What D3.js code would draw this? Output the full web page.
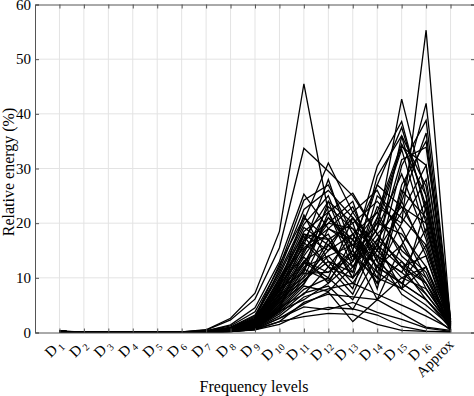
<!DOCTYPE html>
<html>
<head>
<meta charset="utf-8">
<script src="https://cdn.jsdelivr.net/npm/d3@7"></script>
<style>
  body { margin: 0; background: #fff; }
  text { font-family: "Liberation Serif", "Times New Roman", serif; fill: #000; }
</style>
</head>
<body>
<div id="chart"></div>
<script>
// frequency levels on the x axis
const levels = ["D1","D2","D3","D4","D5","D6","D7","D8","D9","D10","D11","D12","D13","D14","D15","D16","Approx"];
const yTicks = [0, 10, 20, 30, 40, 50, 60];

// relative energy (%) per signal, one row per line, values in the order of levels
const lines = [
  [0.3,0.08,0.04,0.03,0.05,0.12,0.5,2.6,7.2,18.5,45.5,22,14,10,8,5,1.2],
  [0.25,0.07,0.03,0.03,0.04,0.1,0.45,2.3,6.1,15.5,33.7,29.5,25,18,12,9,2.0],
  [0.2,0.05,0.02,0.02,0.03,0.08,0.3,1.4,4.5,13,25.3,19,16,14,11,7,1.5],
  [0.22,0.06,0.03,0.02,0.03,0.09,0.3,1.2,3.8,12,24.2,27,18,12,9,6,1.3],
  [0.2,0.05,0.02,0.02,0.03,0.07,0.25,1,3.2,11,20.5,31,22,15,10,8,1.8],
  [0.2,0.05,0.02,0.02,0.03,0.07,0.22,0.9,3,10.5,19.8,25,14,20,18,12,2.2],
  [0.18,0.04,0.02,0.02,0.02,0.06,0.2,0.8,2.6,9.5,19.2,16,21,13,9,6,1.4],
  [0.2,0.05,0.02,0.02,0.03,0.06,0.2,0.7,2.4,9,18.5,22,12,17,24,14,1.9],
  [0.2,0.05,0.02,0.02,0.02,0.06,0.18,0.6,2.2,8.6,17.6,12,18,22,14,10,2.4],
  [0.18,0.04,0.02,0.02,0.02,0.05,0.16,0.6,2,8.2,16.8,20,24,11,8,23,2.1],
  [0.2,0.05,0.02,0.02,0.03,0.06,0.15,0.5,1.8,7.8,16,28,15,9,13,7,1.2],
  [0.2,0.05,0.02,0.02,0.02,0.05,0.15,0.5,1.7,7.5,15.2,18,10,25,21,16,2.5],
  [0.18,0.04,0.02,0.02,0.02,0.05,0.14,0.45,1.6,7,14.5,23,19,15,35.9,20,1.6],
  [0.2,0.05,0.02,0.02,0.02,0.05,0.13,0.4,1.5,6.8,13.8,9,17,27,37.5,23,1.7],
  [0.2,0.05,0.02,0.02,0.02,0.05,0.12,0.4,1.4,6.4,13.1,16,13,19,42.7,24.9,1.5],
  [0.18,0.04,0.02,0.02,0.02,0.05,0.12,0.38,1.3,6,12.5,21,16,11,20,55.3,1.9],
  [0.2,0.05,0.02,0.02,0.02,0.04,0.11,0.35,1.2,5.7,12,14,9,16,31.6,33.9,1.6],
  [0.2,0.05,0.02,0.02,0.02,0.04,0.1,0.33,1.1,5.4,11.4,24,20,8,25,41.9,2.3],
  [0.18,0.04,0.02,0.02,0.02,0.04,0.1,0.3,1,5.1,10.8,11,15,30.4,38.6,22,1.1],
  [0.2,0.05,0.02,0.02,0.02,0.04,0.1,0.3,0.95,4.8,10.2,19,23,13,30.5,38.8,2.4],
  [0.2,0.05,0.02,0.02,0.02,0.04,0.09,0.28,0.9,4.5,9.6,13,8,21,34,30.6,1.8],
  [0.18,0.04,0.02,0.02,0.02,0.04,0.09,0.26,0.85,4.2,9,17,11,28.6,36,26.7,1.4],
  [0.2,0.05,0.02,0.02,0.02,0.04,0.08,0.25,0.8,4,8.5,7.5,12,18,23,15,2.2],
  [0.2,0.05,0.02,0.02,0.02,0.03,0.08,0.24,0.75,3.7,7.9,10,6,14,11,19,2.0],
  [0.18,0.04,0.02,0.02,0.02,0.03,0.08,0.22,0.7,3.4,7.2,8.5,4.2,12,16,9,0.9],
  [0.2,0.05,0.02,0.02,0.02,0.03,0.07,0.2,0.65,3,6.5,8,9,7,5,3,0.7],
  [0.2,0.05,0.02,0.02,0.02,0.03,0.07,0.2,0.6,2.6,5.2,7.4,2,6,10,12,0.8],
  [0.18,0.04,0.02,0.02,0.02,0.03,0.06,0.18,0.5,1.5,3.6,4.6,4.3,3.2,1.1,0.25,0.1],
  [0.2,0.05,0.02,0.02,0.02,0.03,0.06,0.18,0.55,2,5.5,7,6.5,6,3.5,1,0.4],
  [0.22,0.06,0.03,0.02,0.03,0.07,0.22,0.8,2.8,12.5,21,17,20,24,19,10,1.1],
  [0.2,0.05,0.02,0.02,0.02,0.06,0.2,0.7,2.5,11.5,22.5,26,21,16,12,14,0.8],
  [0.2,0.05,0.02,0.02,0.02,0.06,0.18,0.65,2.3,10,18,15,22,26,17,8,1.3],
  [0.2,0.05,0.02,0.02,0.02,0.05,0.17,0.6,2.1,9.8,15.5,19,17,9,27,35,1.9],
  [0.18,0.04,0.02,0.02,0.02,0.05,0.16,0.55,1.9,9.2,17,24,13,21,15,11,0.6],
  [0.2,0.05,0.02,0.02,0.02,0.05,0.15,0.5,1.8,8.8,14,20,19,12,9,16,1.0],
  [0.2,0.05,0.02,0.02,0.02,0.05,0.14,0.5,1.7,8.4,21.5,13,11,23,20,28,1.2],
  [0.18,0.04,0.02,0.02,0.02,0.05,0.13,0.45,1.6,8,11,22,25.5,18,12,6,0.7],
  [0.2,0.05,0.02,0.02,0.02,0.05,0.13,0.42,1.5,7.6,13,11,14,20,33.5,18,1.2],
  [0.2,0.05,0.02,0.02,0.02,0.04,0.12,0.4,1.4,7.2,18,17,10,15,22,30.6,1.7],
  [0.18,0.04,0.02,0.02,0.02,0.04,0.12,0.38,1.3,6.9,10,15,18,10,26,21,0.9],
  [0.2,0.05,0.02,0.02,0.02,0.04,0.11,0.36,1.25,6.5,16.5,12,7,17,13,9,0.5],
  [0.2,0.05,0.02,0.02,0.02,0.04,0.11,0.34,1.2,6.2,9.4,14,16,22,34.5,25,1.5],
  [0.18,0.04,0.02,0.02,0.02,0.04,0.1,0.32,1.1,5.9,12.8,10,21,14,7,4,0.4],
  [0.2,0.05,0.02,0.02,0.02,0.04,0.1,0.3,1,5.5,8.8,16,12,19,29,17,1.1],
  [0.2,0.05,0.02,0.02,0.02,0.04,0.09,0.28,0.95,5,11.6,9.5,15,6,16,24,1.6],
  [0.18,0.04,0.02,0.02,0.02,0.04,0.09,0.27,0.9,4.6,7,12,10,16,8,12,0.5],
  [0.2,0.05,0.02,0.02,0.02,0.03,0.08,0.25,0.85,4.3,15,21,17,12,24,36.5,1.3],
  [0.2,0.05,0.02,0.02,0.02,0.03,0.08,0.24,0.8,3.9,6,9,13,27,23,20,0.9],
  [0.18,0.04,0.02,0.02,0.02,0.03,0.07,0.2,0.6,2.6,4.7,4.2,5.5,3.7,2.4,0.8,0.2],
  [0.2,0.05,0.02,0.02,0.02,0.03,0.06,0.18,0.55,2,2.9,3.5,3.3,1.5,0.4,0.2,0.1]
];

const W = 474, H = 396;
const margin = { top: 4.5, right: -1, bottom: 63.5, left: 35 };
const width = W - margin.left - margin.right;
const height = H - margin.top - margin.bottom;
const serif = "Liberation Serif, Times New Roman, serif";

const svg = d3.select("#chart").append("svg")
  .attr("width", W)
  .attr("height", H);

const g = svg.append("g")
  .attr("transform", `translate(${margin.left},${margin.top})`);

// x is the level index (1..17) on a 0..18 range, like the original axis limits
const x = d3.scaleLinear().domain([0, levels.length + 1]).range([0, width]);
const y = d3.scaleLinear().domain([0, 60]).range([height, 0]);

// grid
g.append("g").selectAll("line")
  .data(levels)
  .enter().append("line")
  .attr("x1", (d, i) => x(i + 1)).attr("x2", (d, i) => x(i + 1))
  .attr("y1", 0).attr("y2", height)
  .attr("stroke", "#e3e3e3").attr("stroke-width", 1);

g.append("g").selectAll("line")
  .data(yTicks.slice(1, -1))
  .enter().append("line")
  .attr("x1", 0).attr("x2", width)
  .attr("y1", d => y(d)).attr("y2", d => y(d))
  .attr("stroke", "#e3e3e3").attr("stroke-width", 1);

// the lines
const line = d3.line()
  .x((d, i) => x(i + 1))
  .y(d => y(d));

g.append("g").selectAll("path")
  .data(lines)
  .enter().append("path")
  .attr("d", line)
  .attr("fill", "none")
  .attr("stroke", "#000")
  .attr("stroke-width", 1.3)
  .attr("stroke-linejoin", "miter");

// axes (box with inward ticks)
const axisColor = "#555";
const levelTicks = levels.map((d, i) => i + 1);
const axBottom = g.append("g")
  .attr("transform", `translate(0,${height})`)
  .call(d3.axisBottom(x).tickValues(levelTicks).tickSize(-4).tickFormat(""));
const axTop = g.append("g")
  .call(d3.axisTop(x).tickValues(levelTicks).tickSize(-4).tickFormat(""));
const axLeft = g.append("g")
  .attr("font-family", serif)
  .call(d3.axisLeft(y).tickValues(yTicks).tickSize(-4).tickPadding(4));
const axRight = g.append("g")
  .attr("transform", `translate(${width},0)`)
  .call(d3.axisRight(y).tickValues(yTicks).tickSize(-4).tickFormat(""));

[axBottom, axTop, axLeft, axRight].forEach(a => {
  a.select(".domain").attr("stroke", axisColor).attr("stroke-width", 1);
  a.selectAll(".tick line").attr("stroke", axisColor);
});
axLeft.attr("font-family", serif);
axLeft.selectAll(".tick text")
  .style("font-size", "15px")
  .style("font-family", serif);

// rotated level labels with subscripts
const labels = g.append("g").selectAll("text")
  .data(levels)
  .enter().append("text")
  .attr("text-anchor", "end")
  .attr("transform", (d, i) => `translate(${x(i + 1) + 4},${height + 13}) rotate(-45)`)
  .style("font-family", serif)
  .style("font-size", "15px");

labels.each(function (d) {
  const t = d3.select(this);
  const m = d.match(/^D(\d+)$/);
  if (m) {
    t.append("tspan").text("D");
    t.append("tspan").attr("dy", 3).style("font-size", "10px").text("\u2009" + m[1]);
  } else {
    t.text(d);
  }
});

// axis titles
svg.append("text")
  .attr("x", 254).attr("y", 392)
  .attr("text-anchor", "middle")
  .style("font-family", serif)
  .style("font-size", "16px")
  .text("Frequency levels");

svg.append("text")
  .attr("transform", "translate(14,172) rotate(-90)")
  .attr("text-anchor", "middle")
  .style("font-family", serif)
  .style("font-size", "16px")
  .text("Relative energy (%)");
</script>
</body>
</html>
